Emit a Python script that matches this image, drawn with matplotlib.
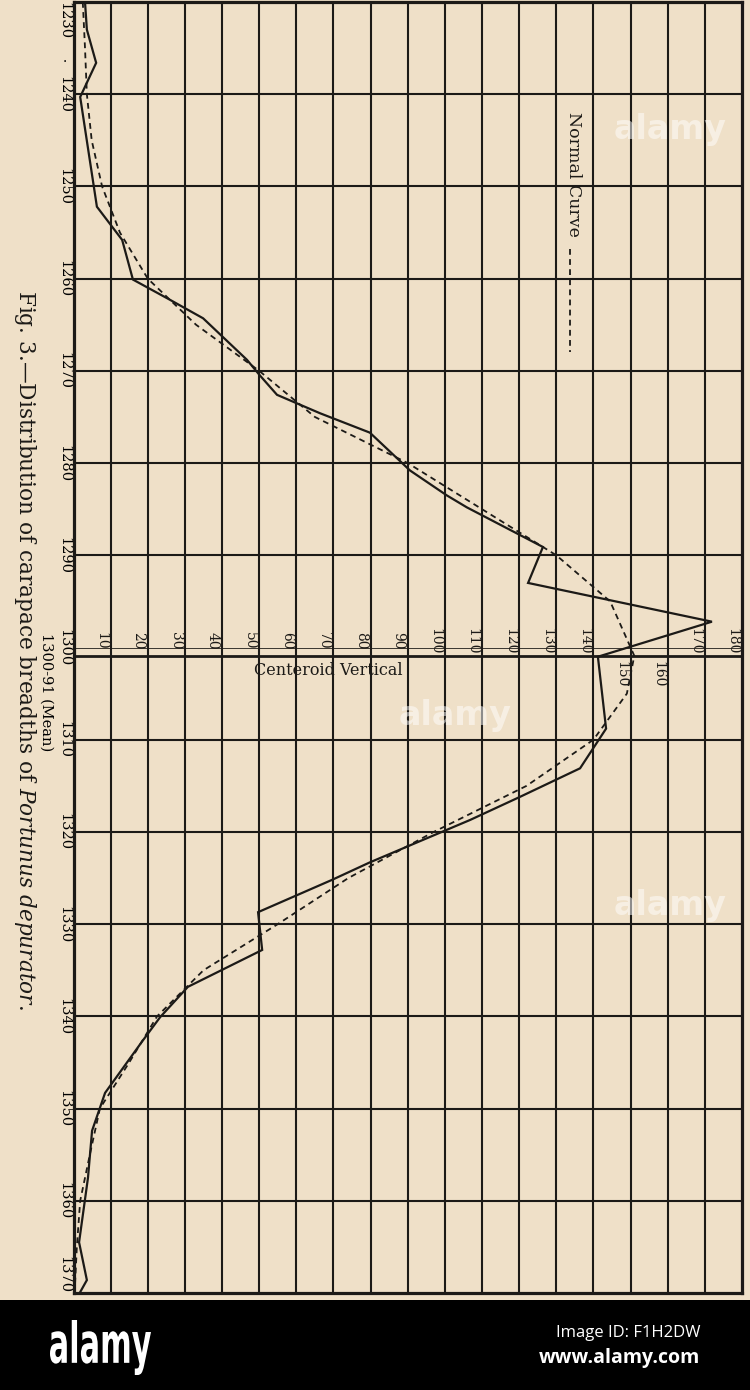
"""Fig. 3 -- distribution of carapace breadths of Portunus depurator.

Scanned book figure, printed sideways: breadth runs down the page,
frequency runs across, and every label reads top-to-bottom.
"""

import matplotlib
matplotlib.use("Agg")
import matplotlib.pyplot as plt
from matplotlib.font_manager import FontProperties
from matplotlib.lines import Line2D
from matplotlib.patches import PathPatch
from matplotlib.textpath import TextPath
from matplotlib.transforms import Affine2D

plt.rcParams["font.family"] = ["DejaVu Serif"]
plt.rcParams["mathtext.fontset"] = "dejavuserif"

# --- data ---
breadth_ticks = list(range(1230, 1371, 10))
freq_ticks = list(range(10, 181, 10))
mean_breadth = 1300.91

# observed polygon (solid)
obs_breadth = [1230.0, 1233.0, 1236.6, 1240.3, 1252.2, 1255.8, 1260.1, 1262.3,
               1264.3, 1268.8, 1270.5, 1272.6, 1274.6, 1276.7, 1280.8, 1283.5,
               1284.8, 1289.1, 1293.0, 1297.2, 1301.0, 1308.8, 1313.1, 1316.2,
               1318.7, 1323.3, 1325.2, 1328.7, 1332.8, 1336.8, 1340.1, 1342.6,
               1348.3, 1352.4, 1357.5, 1364.5, 1368.6, 1369.9]
obs_freq = [3.1, 3.6, 6.1, 1.8, 6.3, 13.1, 16.0, 26.0,
            34.9, 46.7, 50.2, 54.8, 66.4, 79.8, 90.6, 100.5,
            105.9, 126.4, 122.4, 171.9, 141.2, 143.4, 136.4, 120.2,
            106.8, 79.8, 69.6, 49.7, 50.8, 30.8, 23.3, 18.7,
            8.5, 5.0, 3.9, 1.5, 3.6, 1.8]

# normal curve (dashed)
norm_breadth = [1230, 1235, 1240, 1245, 1250, 1255, 1260, 1265, 1270, 1275,
                1280, 1285, 1290, 1295, 1300.9, 1305, 1310, 1315, 1320, 1325,
                1330, 1335, 1340, 1345, 1350, 1355, 1360, 1365, 1370]
norm_freq = [2.5, 3.1, 3.6, 4.9, 7.7, 12.5, 20.0, 33.0, 50.0, 65.0,
             90.0, 110.0, 130.0, 144.5, 151.0, 149.0, 140.0, 122.0, 97.0, 74.0,
             55.0, 35.0, 22.5, 15.0, 7.1, 4.4, 1.8, 0.9, 0.3]

PAPER = "#efe0c8"
INK = "#1c1a17"
DASH = (0, (3.2, 2.4))

W, H = 750, 1390
fig = plt.figure(figsize=(W / 100, H / 100), dpi=100, facecolor=PAPER)

# chart frame in pixel terms of the page
x0, x1, y0, y1 = 73.5, 742, 2, 1293
ax = fig.add_axes([x0 / W, 1 - y1 / H, (x1 - x0) / W, (y1 - y0) / H])
ax.set_facecolor(PAPER)
ax.set_xlim(0, 180)
ax.set_ylim(1370, 1230)

for s in ax.spines.values():
    s.set_linewidth(2.3)
    s.set_color(INK)

for f in freq_ticks[:-1]:
    ax.axvline(f, color=INK, lw=1.5, zorder=1)
for b in breadth_ticks[1:-1]:
    ax.axhline(b, color=INK, lw=0.6 if b == 1300 else 1.5, zorder=1)
ax.axhline(mean_breadth, color=INK, lw=2.0, zorder=1)

ax.plot(obs_freq, obs_breadth, color=INK, lw=1.6, zorder=3,
        solid_joinstyle="miter")
ax.plot(norm_freq, norm_breadth, color=INK, lw=1.3, ls=DASH, zorder=3)

# breadth labels down the left side
ax.set_xticks([])
ax.set_yticks(breadth_ticks)
ax.set_yticklabels([str(b) for b in breadth_ticks], rotation=270,
                   va="center", fontsize=10.5)
ax.tick_params(axis="y", length=0, pad=1.5)
labels = ax.get_yticklabels()
labels[0].set_va("top")
labels[-1].set_va("bottom")
ax.text(-7.4, 1298.4, "1300-91 (Mean)", rotation=270, rotation_mode="anchor",
        ha="left", va="center", fontsize=10.5, clip_on=False)
ax.text(-2.2, 1236.5, "·", ha="center", va="center", fontsize=10, clip_on=False)

# frequency labels along the 1300 line
for f in freq_ticks:
    yb = 1302.9 if f in (150, 160) else 1299.3
    ax.text(f - 2.5, yb, str(f), rotation=270, ha="center", va="center",
            fontsize=10, color=INK, zorder=4)

ax.text(68.7, 1302.5, "Centeroid Vertical", ha="center", va="center",
        fontsize=11.5, color=INK, zorder=4)

# legend, printed sideways
ax.text(134.5, 1241.9, "Normal Curve", rotation=270, rotation_mode="anchor",
        ha="left", va="center", fontsize=12.5, color=INK, zorder=4)
ax.add_line(Line2D([133.8, 133.8], [1256.8, 1268.0], color=INK, lw=1.3,
                   ls=DASH, zorder=4))

# caption
fig.text(25 / W, 1 - 650 / H,
         r"Fig. 3.—Distribution of carapace breadths of $\it{Portunus\ depurator}$.",
         rotation=270, ha="center", va="center", fontsize=15.6, color=INK)

# stock-photo watermarks
for wx, wy in [(670, 130), (455, 715), (670, 905)]:
    fig.text(wx / W, 1 - wy / H, "alamy", ha="center", va="center",
             family="DejaVu Sans", fontweight="bold", fontsize=24,
             color="white", alpha=0.5, zorder=10)

# banner
ban = fig.add_axes([0, 0, 1, 90 / H])
ban.set_facecolor("black")
ban.set_xticks([])
ban.set_yticks([])
for s in ban.spines.values():
    s.set_visible(False)
ban.set_xlim(0, W)
ban.set_ylim(0, 90)

# condensed logo: squeeze the glyph outline into its box (x 50-151, y 1320-1375)
logo = TextPath((0, 0), "alamy", size=50,
                prop=FontProperties(family="DejaVu Sans", weight="bold"))
ext = logo.get_extents()
sx = (151 - 50) / ext.width
sy = (1375 - 1320) / ext.height
tr = (Affine2D().translate(-ext.x0, -ext.y0).scale(sx, sy)
      .translate(50, 90 - (1375 - 1300)))
ban.add_patch(PathPatch(tr.transform_path(logo), color="white", lw=0))

ban.text(700, 90 - 33, "Image ID: F1H2DW", ha="right", va="center",
         family="Open Sans", fontsize=12, color="white")
ban.text(700, 90 - 58, "www.alamy.com", ha="right", va="center",
         family="Open Sans", fontweight="bold", fontsize=14, color="white")

fig.savefig("out.png", dpi=100, facecolor=PAPER)
